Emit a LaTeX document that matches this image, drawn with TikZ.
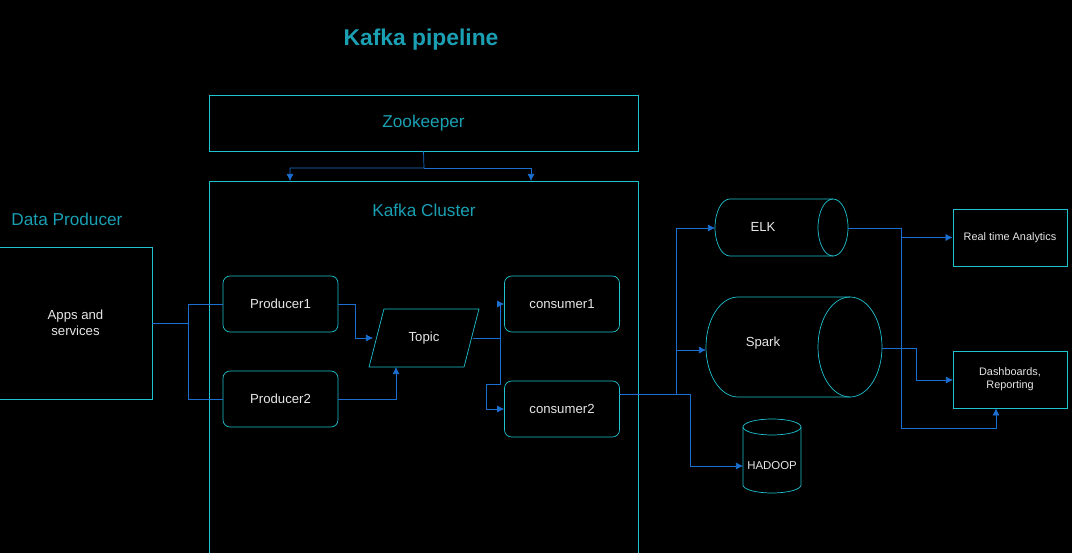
\documentclass[tikz,border=0pt]{standalone}
\usepackage{fontspec}
\setmainfont{Liberation Sans}
\usetikzlibrary{shapes.geometric,arrows.meta}
\definecolor{cy}{HTML}{1FC2CF}
\definecolor{tl}{HTML}{1A9FB3}
\definecolor{ln}{HTML}{1A6FD0}
\definecolor{tx}{HTML}{E6E6E6}
\tikzset{
  box/.style={draw=cy, text=tx, font=\fontsize{7.5}{9}\selectfont, align=center, inner sep=0pt},
  rbox/.style={box, rounded corners=4pt, minimum width=2.3cm, minimum height=1.12cm},
  lbl/.style={text=tx, font=\fontsize{7.5}{9}\selectfont, inner sep=0pt},
  cylline/.style={draw=cy},
  conn/.style={draw=ln, -{Latex[length=4pt,width=4pt]}},
  plain/.style={draw=ln},
  ttl/.style={text=tl}
}
\begin{document}
\begin{tikzpicture}[x=0.02cm,y=-0.02cm]
\fill[black] (0,0) rectangle (1072,553);
\useasboundingbox (0,0) rectangle (1072,553);

\node[ttl, font=\bfseries\fontsize{13}{15}\selectfont] (title) at (421,40) {Kafka pipeline};

\node[box, minimum width=8.58cm, minimum height=1.12cm, text=tl, font=\fontsize{9.8}{11}\selectfont] (zk) at (423.5,123) {Zookeeper};
\draw[draw=cy] (209,553) -- (209,181) -- (638,181) -- (638,553);
\node[ttl, font=\fontsize{9.8}{11}\selectfont] (kct) at (424,210) {Kafka Cluster};
\coordinate (zkl) at (290,181);
\coordinate (zkr) at (531,181);
\draw[conn] (zk.south) -- (424,168) -| (zkl);
\draw[conn] (424,168) -| (zkr);

\node[ttl, font=\fontsize{9.8}{11}\selectfont] (dp) at (67,219) {Data Producer};
\node[box, minimum width=3.06cm, minimum height=3.04cm] (apps) at (75.5,323) {Apps and\\services};

\node[rbox] (p1) at (280.5,304) {Producer1};
\node[rbox] (p2) at (280.5,399) {Producer2};
\node[box, trapezium, trapezium left angle=65, trapezium right angle=115, minimum width=2.2cm, minimum height=1.16cm, trapezium stretches=true] (topic) at (424,338) {Topic};
\node[rbox] (c1) at (562,304) {consumer1};
\node[rbox] (c2) at (562,409) {consumer2};

% ELK
\draw[cylline] (833,199) -- (730,199) arc[start angle=-90, end angle=-270, x radius=15, y radius=28.5] -- (833,256);
\draw[cylline] (833,227.5) ellipse[x radius=15, y radius=28.5];
\node[lbl] (elk) at (763,227) {ELK};
\coordinate (elkin) at (715,228);
\coordinate (elkout) at (848,228);
% Spark
\draw[cylline] (850,297) -- (738,297) arc[start angle=-90, end angle=-270, x radius=32, y radius=50] -- (850,397);
\draw[cylline] (850,347) ellipse[x radius=32, y radius=50];
\node[lbl] (spark) at (763,343) {Spark};
\coordinate (spin) at (706,350);
\coordinate (spout) at (882,348);
% HADOOP
\draw[cylline] (743,427) -- (743,485) arc[start angle=180, end angle=0, x radius=29, y radius=8] -- (801,427);
\draw[cylline] (772,427) ellipse[x radius=29, y radius=8];
\node[lbl, font=\fontsize{6.5}{8}\selectfont] (hd) at (772,466) {HADOOP};
\coordinate (hdin) at (743,466);

\node[box, minimum width=2.28cm, minimum height=1.14cm, font=\fontsize{6.2}{7.5}\selectfont] (rt) at (1010,237.5) {Real time Analytics};
\node[box, minimum width=2.28cm, minimum height=1.14cm, font=\fontsize{6.2}{7.5}\selectfont] (db) at (1010,379.5) {Dashboards,\\Reporting};

% producers
\draw[plain] (apps.east) -- (188,323) |- (p1.west);
\draw[plain] (188,323) |- (p2.west);
\draw[conn] (p1.east) -- (355,304) |- (373,338);
\draw[conn] (p2.east) -| (396,367);
% consumers
\draw[conn] (473,338) -- (500,338) |- (c1.west);
\draw[conn] (500,338) |- (486,384) |- (c2.west);
% sinks
\coordinate (c2o) at (619,394);
\draw[conn] (c2o) -- (676,394) |- (elkin);
\draw[conn] (676,394) |- (spin);
\draw[conn] (676,394) -- (690,394) |- (hdin);
\draw[conn] (elkout) -- (901,228) |- (rt.west);
\draw[conn] (901,228) |- (996,428) -- (db.south -| 996,0);
\draw[conn] (spout) -- (916,348) |- (953,380);
\end{tikzpicture}
\end{document}
